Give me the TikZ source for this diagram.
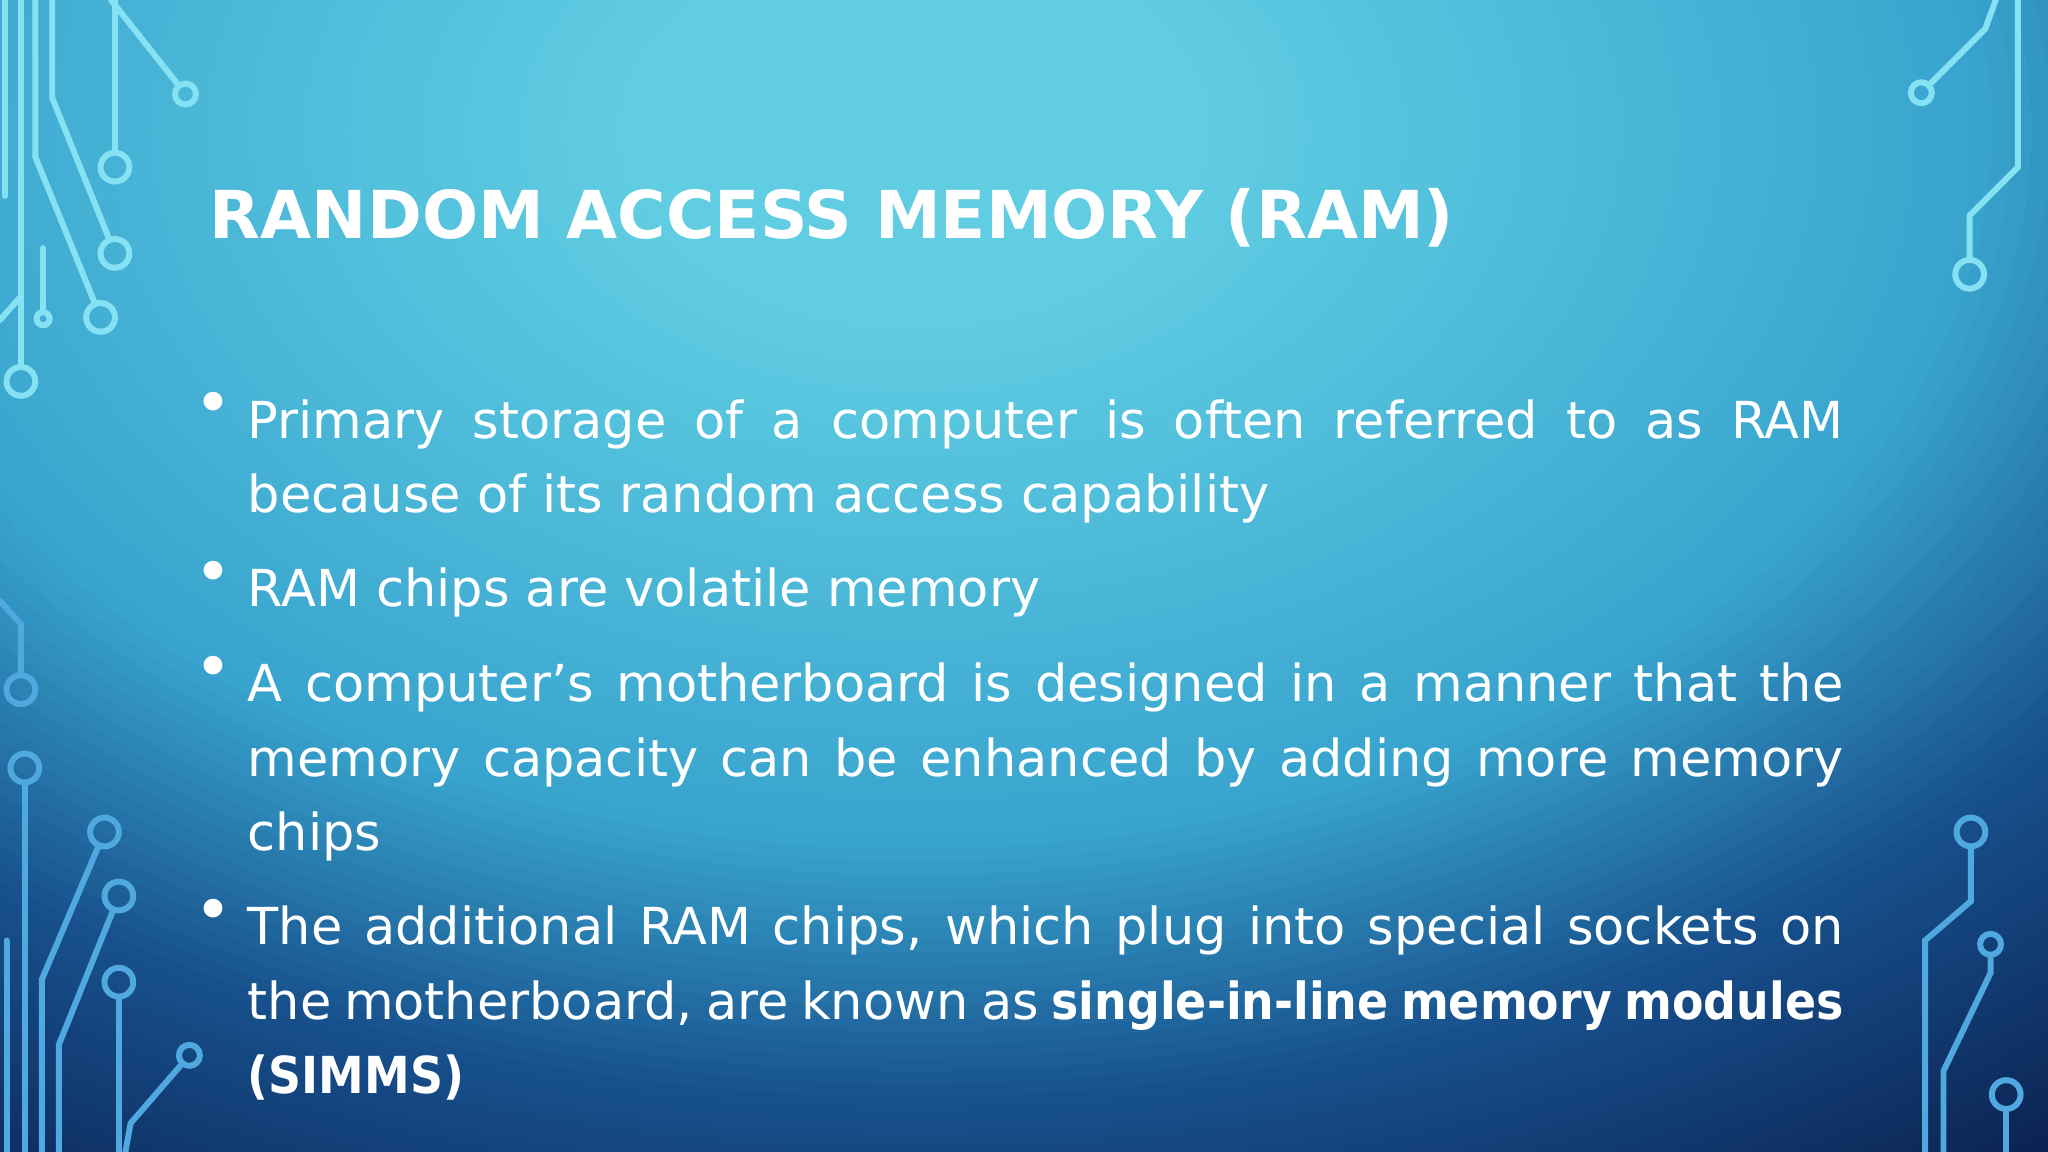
\documentclass[tikz,border=0pt]{standalone}
\usepackage{fontspec}
\setmainfont{DejaVu Sans}
\newfontfamily\condbold[FakeStretch=0.9]{DejaVu Sans Bold}
\usepackage{graphicx}
\definecolor{cA}{HTML}{60CDE3}
\definecolor{cB}{HTML}{38A4CE}
\definecolor{cC}{HTML}{17508C}
\definecolor{cD}{HTML}{0A1E4C}
\definecolor{lineT}{HTML}{86E2F2}
\definecolor{lineB}{HTML}{4FA9E0}
\newcommand\nohyph{\hyphenpenalty=10000 \exhyphenpenalty=10000 }
\begin{document}
\begin{tikzpicture}[x=0.01cm,y=-0.01cm,
  ckt/.style={line width=1.3pt,line cap=round},
  pad/.style={draw,line width=1.3pt,circle,inner sep=0pt},
  big/.style={pad,minimum size=0.22cm},
  small/.style={pad,minimum size=0.16cm},
  body/.style={text=white,anchor=north west,text width=12.21cm,align=justify,inner sep=0pt,font=\fontsize{11.1}{16.2}\selectfont\nohyph}]
\clip (0,0) rectangle (1568,882);
\fill[cD] (0,0) rectangle (1568,882);
% background gradient: concentric ellipses
\foreach \r in {1000,990,...,760} {
  \pgfmathsetmacro\p{(\r-750)/250*100}
  \fill[cD!\p!cC] (700,100) ellipse ({1.5*\r*0.01cm} and {\r*0.01cm});
}
\foreach \r in {750,740,...,560} {
  \pgfmathsetmacro\p{(\r-550)/200*100}
  \fill[cC!\p!cB] (700,100) ellipse ({1.5*\r*0.01cm} and {\r*0.01cm});
}
\foreach \r in {550,540,...,150} {
  \pgfmathsetmacro\p{(\r-150)/400*100}
  \fill[cB!\p!cA] (700,100) ellipse ({1.5*\r*0.01cm} and {\r*0.01cm});
}
% top-left circuits
\begin{scope}[lineT]
\node[small] (p1) at (142,72) {};
\draw[ckt] (85,0) -- (p1);
\node[big] (p2) at (88,128) {};
\draw[ckt] (88,0) -- (p2);
\node[big] (p3) at (88,194) {};
\draw[ckt] (40,0) -- (40,75) -- (p3);
\node[big] (p4) at (77,243) {};
\draw[ckt] (27,0) -- (27,120) -- (p4);
\node[pad,minimum size=0.1cm] (p5) at (33,244) {};
\draw[ckt] (33,190) -- (p5);
\node[big] (p6) at (16,292) {};
\draw[ckt] (16,0) -- (p6);
\draw[ckt] (4,0) -- (4,150);
\draw[ckt] (0,245) -- (15,228);
\end{scope}
% top-right
\begin{scope}[lineT]
\node[small] (q1) at (1471,71) {};
\draw[ckt] (q1) -- (1520,22) -- (1528,0);
\node[big] (q2) at (1508,210) {};
\draw[ckt] (q2) -- (1508,165) -- (1545,128) -- (1545,0);
\end{scope}
% bottom-left
\begin{scope}[lineB]
\node[big] (b1) at (16,528) {};
\draw[ckt] (0,460) -- (16,478) -- (b1);
\node[big] (b2) at (19,588) {};
\draw[ckt] (b2) -- (19,882);
\node[big] (b3) at (80,637) {};
\draw[ckt] (b3) -- (32,750) -- (32,882);
\node[big] (b4) at (91,686) {};
\draw[ckt] (b4) -- (45,800) -- (45,882);
\node[big] (b5) at (91,752) {};
\draw[ckt] (b5) -- (91,882);
\node[small] (b6) at (145,808) {};
\draw[ckt] (b6) -- (100,860) -- (96,882);
\draw[ckt] (5,720) -- (5,882);
\end{scope}
% bottom-right
\begin{scope}[lineB]
\node[big] (r1) at (1509,637) {};
\draw[ckt] (r1) -- (1509,690) -- (1474,720) -- (1474,882);
\node[small] (r2) at (1524,723) {};
\draw[ckt] (r2) -- (1524,745) -- (1488,820) -- (1488,882);
\node[big] (r3) at (1536,838) {};
\draw[ckt] (r3) -- (1536,882);
\end{scope}
% title
\node[text=white,anchor=south west,inner sep=0pt] (title) at (160,190) {\resizebox{9.52cm}{!}{\bfseries RANDOM ACCESS MEMORY (RAM)}};
% bullets
\node[body] (t1) at (189,305) {Primary storage of a computer is often referred to as RAM because of its random access capability};
\node[body] (t2) at (189,434) {RAM chips are volatile memory};
\node[body] (t3) at (189,507) {A computer’s motherboard is designed in a manner that the memory capacity can be enhanced by adding more memory chips};
\node[body] (t4) at (189,693) {The additional RAM chips, which plug into special sockets on\linebreak the motherboard, are known as {\condbold single-in-line memory modules (SIMMS)}};
\foreach \n in {t1,t2,t3,t4}
  \node[text=white,anchor=north east,inner sep=0pt,font=\fontsize{14}{16}\selectfont] at ([xshift=-0.1cm,yshift=0.05cm]\n.north west) {•};
\end{tikzpicture}
\end{document}
